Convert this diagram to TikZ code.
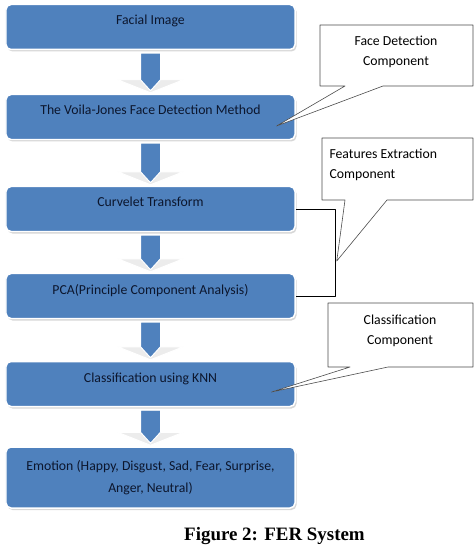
\documentclass[tikz,border=0pt]{standalone}
\usepackage{fontspec}
\setmainfont{Carlito}
\newfontfamily\capfont{Liberation Serif}
\usetikzlibrary{calc,shadows}
\definecolor{khoi}{RGB}{79,129,189}
\definecolor{chu}{RGB}{12,22,45}
\begin{document}
\begin{tikzpicture}[x=1bp,y=-1bp,line join=round,font=\fontsize{13.8}{20}\selectfont,
    stage/.style={fill=khoi,draw=white,line width=1.5pt,rounded corners=5bp,minimum width=289bp,minimum height=45bp,
      text=chu,text height=9bp,text depth=13bp,
      drop shadow={shadow xshift=1.5bp,shadow yshift=-2bp,fill=gray!45,opacity=.7}},
    callout/.style={draw=gray!60!black,fill=white,line width=.6pt}]
    \useasboundingbox (0,0) rectangle (474,545);
    %Vẽ các khối
    \node[stage] (fi) at (150.5,27) {Facial Image};
    \node[stage] (vj) at (150.5,117) {The Voila-Jones Face Detection Method};
    \node[stage] (ct) at (150.5,209) {Curvelet Transform};
    \node[stage] (pca) at (150.5,296) {PCA(Principle Component Analysis)};
    \node[stage] (knn) at (150.5,384) {Classification using KNN};
    \node[stage,minimum height=61bp,text height=,text depth=,align=center,font=\fontsize{13.8}{22}\selectfont] (emo) at (150.5,477.5) {Emotion (Happy, Disgust, Sad, Fear, Surprise,\\Anger, Neutral)};
    %Vẽ các mũi tên
    \foreach \a/\b in {fi/vj,vj/ct,ct/pca,pca/knn,knn/emo}{
        \filldraw[fill=gray!15,draw=white,line width=1pt] ($(\b.north)+(-33,-14)$) -- ($(\b.north)+(33,-14)$) -- ($(\b.north)+(0,-1)$) -- cycle;
        \filldraw[fill=khoi,draw=white,line width=1pt] ($(\a.south)+(-10,3)$) -- ($(\a.south)+(10,3)$) -- ($(\b.north)+(10,-14)$) -- ($(\b.north)+(0,-3)$) -- ($(\b.north)+(-10,-14)$) -- cycle;
    }
    %Vẽ ngoặc nối hai khối
    \draw[line width=.6pt] (ct.east) -- ++(40,0) coordinate (br) |- (pca.east);
    %Vẽ các chú thích
    \filldraw[callout] (320,25) -- (473,25) -- (473,86) -- (383,86) -- ($(vj.center)+(126,9)$) -- (345,86) -- (320,86) -- cycle;
    \filldraw[callout] (322,138) -- (473,138) -- (473,200) -- (387,200) -- ($(br)+(1,52)$) -- (345,200) -- (322,200) -- cycle;
    \filldraw[callout] (328,303) -- (473,303) -- (473,367) -- (388,367) -- ($(knn.center)+(121,8)$) -- (350,367) -- (328,367) -- cycle;
    \node[align=center] (fdc) at (396,52) {Face Detection\\Component};
    \node[align=left,anchor=west] (fec) at (326,165) {Features Extraction\\Component};
    \node[align=center] (clc) at (400,331) {Classification\\Component};
    %Chú thích hình
    \node[font=\capfont\bfseries\fontsize{19}{19}\selectfont,anchor=base] (cap) at (274.5,540.5) {Figure 2: FER System};
\end{tikzpicture}
\end{document}
